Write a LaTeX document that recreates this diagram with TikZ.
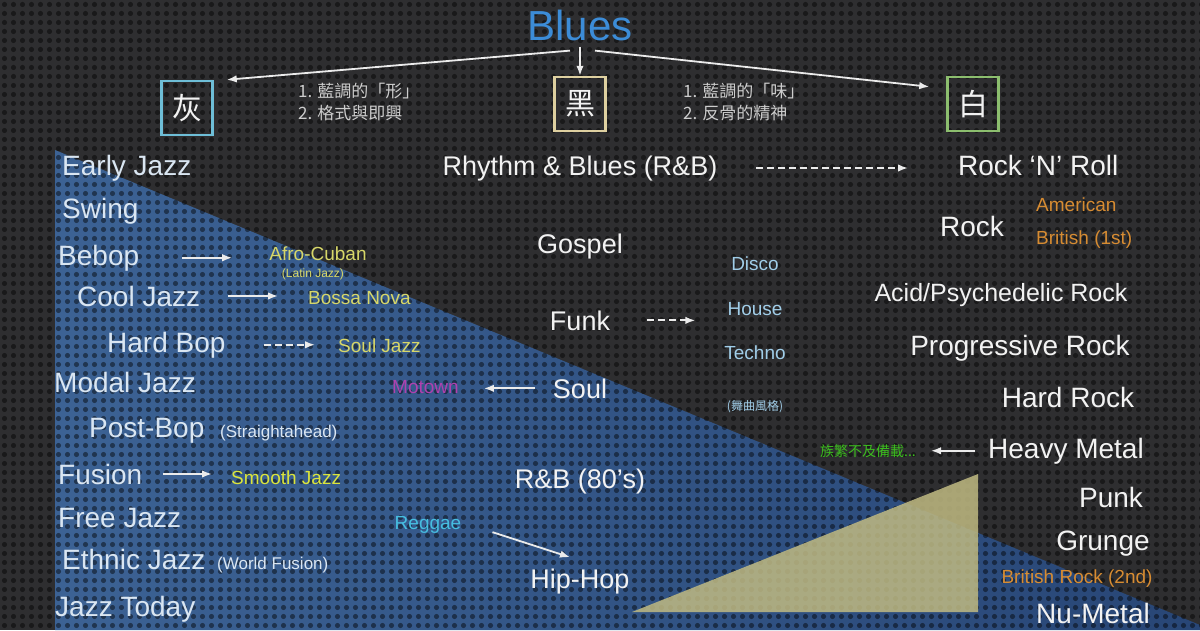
\documentclass[tikz,border=0pt]{standalone}
\usepackage{fontspec}
\setmainfont{Liberation Sans}
\newfontfamily\cjk{Noto Sans CJK TC}
\usetikzlibrary{arrows.meta,patterns,calc}
\pgfdeclarepatternformonly{mesh}{\pgfqpoint{-1pt}{-1pt}}{\pgfqpoint{10pt}{10pt}}{\pgfqpoint{9pt}{9pt}}{\pgfpathcircle{\pgfqpoint{4.5pt}{4.5pt}}{2.6pt}\pgfusepath{fill}}
\definecolor{bgc}{RGB}{46,46,48}
\definecolor{blueL}{RGB}{60,98,148}
\definecolor{blueR}{RGB}{40,70,118}
\definecolor{trif}{RGB}{192,186,130}
\definecolor{boxc}{RGB}{110,190,215}
\definecolor{boxb}{RGB}{222,208,160}
\definecolor{boxg}{RGB}{140,190,110}
\definecolor{bluesc}{RGB}{60,140,215}
\definecolor{labc}{RGB}{205,205,205}
\definecolor{jw}{RGB}{218,230,242}
\definecolor{ww}{RGB}{242,242,242}
\definecolor{yel}{RGB}{215,215,105}
\definecolor{yel2}{RGB}{218,228,60}
\definecolor{ora}{RGB}{215,140,50}
\definecolor{lblue}{RGB}{160,205,232}
\definecolor{cyanr}{RGB}{70,190,225}
\definecolor{mot}{RGB}{175,65,175}
\definecolor{grn}{RGB}{60,190,30}
\definecolor{arrc}{RGB}{235,235,235}
\begin{document}
\begin{tikzpicture}[x=1pt,y=-1pt,
  J/.style={font=\fontsize{28}{30}\selectfont, text=jw, inner sep=0pt, anchor=base west},
  M/.style={font=\fontsize{27}{30}\selectfont, text=ww, inner sep=0pt, anchor=base},
  R/.style={font=\fontsize{28}{30}\selectfont, text=ww, inner sep=0pt},
  S/.style={font=\fontsize{19}{22}\selectfont, inner sep=0pt},
  SS/.style={font=\fontsize{17}{20}\selectfont, text=jw, inner sep=0pt, anchor=base west},
  lab/.style={font=\cjk\fontsize{17}{20}\selectfont, text=labc, inner sep=0pt, anchor=base west},
  kbox/.style={draw=#1, line width=2.5pt, minimum width=51pt, minimum height=54pt, inner sep=0pt, font=\cjk\fontsize{30}{32}\selectfont, text=ww},
  arr/.style={draw=arrc, line width=1.8pt, -{Latex[length=10pt,width=7.5pt]}},
  darr/.style={arr, dash pattern=on 7pt off 4pt}]
\useasboundingbox (0,0) rectangle (1200,630);
% background
\fill[bgc] (0,0) rectangle (1200,630);
\shade[left color=blueL, right color=blueR] (55,150) -- (1200,625) -- (1200,630) -- (55,630) -- cycle;
\fill[pattern=mesh, pattern color=black, opacity=.45] (0,0) rectangle (1200,630);
\fill[trif, opacity=.85] (632,612) -- (978,474) -- (978,612) -- cycle;

% title and boxes
\node[font=\fontsize{42}{44}\selectfont, text=bluesc, inner sep=0pt, anchor=base] (blues) at (580,40) {Blues};
\node[kbox=boxc] (hui) at (187,108) {灰};
\node[kbox=boxb] (hei) at (580,104) {黑};
\node[kbox=boxg] (bai) at (973,104) {白};
\draw[arr] ($(blues.south)+(-10,10)$) -- ($(hui.north east)+(13,0)$);
\draw[arr] ($(blues.south)+(0,6)$) -- (hei.north);
\draw[arr] ($(blues.south)+(15,10)$) -- ($(bai.north west)+(-17,11)$);
\node[lab] (la1) at (298,97) {1. 藍調的「形」};
\node[lab] (la2) at (298,119) {2. 格式與即興};
\node[lab] (lb1) at (683,97) {1. 藍調的「味」};
\node[lab] (lb2) at (683,119) {2. 反骨的精神};

% left column
\node[J] (early) at (62,175) {Early Jazz};
\node[J] (swing) at (62,218) {Swing};
\node[J] (bebop) at (58,265) {Bebop};
\node[J] (cool) at (77,306) {Cool Jazz};
\node[J] (hard) at (107,352) {Hard Bop};
\node[J] (modal) at (54,392) {Modal Jazz};
\node[J] (post) at (89,437) {Post-Bop};
\node[SS] (straight) at (220,437) {(Straightahead)};
\node[J] (fusion) at (58,484) {Fusion};
\node[J] (free) at (58,527) {Free Jazz};
\node[J] (ethnic) at (62,569) {Ethnic Jazz};
\node[SS] (world) at (217,569) {(World Fusion)};
\node[J] (today) at (55,616) {Jazz Today};

\node[S, text=yel, anchor=base] (afro) at (318,260) {Afro-Cuban};
\node[font=\fontsize{12}{14}\selectfont, text=yel, inner sep=0pt, anchor=base] (latin) at (313,277) {(Latin Jazz)};
\node[S, text=yel, anchor=base west] (bossa) at (308,304) {Bossa Nova};
\node[S, text=yel, anchor=base west] (souljazz) at (338,352) {Soul Jazz};
\node[S, text=mot, anchor=base west] (motown) at (392,393) {Motown};
\node[S, text=yel2, anchor=base west] (smooth) at (231,484) {Smooth Jazz};

\draw[arr, shorten <=43pt, shorten >=37pt] (bebop.east) -- (bebop.east -| afro.west);
\draw[arr, shorten <=28pt, shorten >=30pt] (cool.east) -- (cool.east -| bossa.west);
\draw[darr, shorten <=38pt, shorten >=23pt] (hard.east) -- (hard.east -| souljazz.west);
\draw[arr, shorten <=21pt, shorten >=19pt] (fusion.east) -- (fusion.east -| smooth.west);

% middle column
\node[M] (rnb) at (580,175) {Rhythm \& Blues (R\&B)};
\node[M] (gospel) at (580,253) {Gospel};
\node[M] (funk) at (580,330) {Funk};
\node[M] (soul) at (580,398) {Soul};
\node[M] (rnb80) at (580,488) {R\&B (80’s)};
\node[M] (hiphop) at (580,588) {Hip-Hop};
\node[S, text=lblue, anchor=base] (disco) at (755,270) {Disco};
\node[S, text=lblue, anchor=base] (house) at (755,315) {House};
\node[S, text=lblue, anchor=base] (techno) at (755,359) {Techno};
\node[font=\cjk\fontsize{12}{14}\selectfont, text=lblue, inner sep=0pt, anchor=base] (dance) at (755,410) {(舞曲風格)};
\node[S, text=cyanr, anchor=base] (reggae) at (428,529) {Reggae};

\draw[darr, shorten <=37pt, shorten >=32pt] (funk.east) -- (funk.east -| house.west);
\draw[arr, shorten <=18pt, shorten >=25pt] (soul.west) -- (soul.west -| motown.east);
\draw[arr] ($(reggae.south east)+(31,-1)$) -- ($(hiphop.north)+(-10,-11)$);

% right column
\node[R, anchor=base west] (rnr) at (958,175) {Rock ‘N’ Roll};
\node[R, anchor=base west] (rock) at (940,236) {Rock};
\node[S, text=ora, anchor=base west] (amer) at (1036,211) {American};
\node[S, text=ora, anchor=base west] (brit1) at (1036,244) {British (1st)};
\node[R, anchor=base, font=\fontsize{25}{28}\selectfont] (acid) at (1001,301) {Acid/Psychedelic Rock};
\node[R, anchor=base] (prog) at (1020,355) {Progressive Rock};
\node[R, anchor=base] (hardrock) at (1068,407) {Hard Rock};
\node[R, anchor=base] (heavy) at (1066,458) {Heavy Metal};
\node[font=\cjk\fontsize{14}{16}\selectfont, text=grn, inner sep=0pt] (zu) at (868,451) {族繁不及備載...};
\node[R, anchor=base] (punk) at (1111,507) {Punk};
\node[R, anchor=base] (grunge) at (1103,550) {Grunge};
\node[S, text=ora, anchor=base] (brit2) at (1077,583) {British Rock (2nd)};
\node[R, anchor=base] (numetal) at (1093,623) {Nu-Metal};

\draw[darr, shorten <=39pt, shorten >=50pt] (rnb.east) -- (rnb.east -| rnr.west);
\draw[arr, shorten <=13pt, shorten >=15pt] (heavy.west) -- (heavy.west -| zu.east);
\end{tikzpicture}
\end{document}
